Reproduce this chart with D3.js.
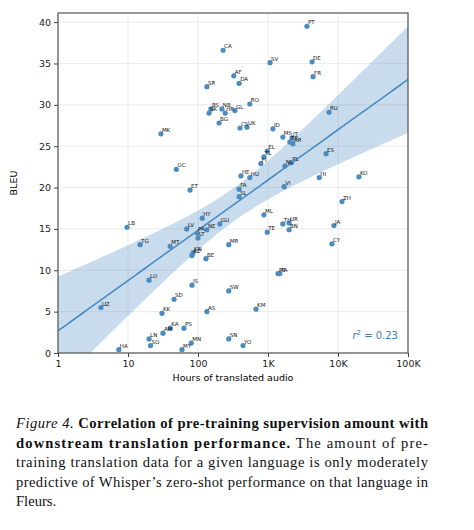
<!DOCTYPE html>
<html>
<head>
<meta charset="utf-8">
<script src="https://cdn.jsdelivr.net/npm/d3@7"></script>
<style>
  body { margin: 0; background: #fff; }
  svg { display: block; }
</style>
</head>
<body>
<svg id="chart" width="474" height="530"></svg>
<script>
// languages, training hours and BLEU
const langs = ["CA","SV","AF","DA","SR","RO","BS","NB","GL","HR","SK","BG","CS","UK","MK","ID","MS","OC","EL","TL","FI","HE","HU","ET","FA",
  "PT","DE","FR","RU","IT","TR","AR","ES","PL","NL","HI","KO","VI",
  "SL","HY","LB","LV","PA","NE","GU","TG","MT","LT","KN","AZ","BE","MR","ML","LO","IS","SW","SD","UZ","KK","AS","KM","KA","PS","AM","LN","SO","HA","MY","MN","SN","YO",
  "ZH","TH","UR","TE","BN","JA","CY","MI","TA"];
const hours = [228,1070,325,387,134,550,153,219,337,245,144,200,398,500,29.5,1175,1630,49,975,875,790,410,550,77,387,
  3600,4260,4400,7450,2200,2050,2270,6750,2140,1740,5400,19900,1700,
  387,115,9.7,69,97,134,205,14.9,40,100,85,82,130,275,875,20,82,275,45.5,4.1,30.6,134,675,40,63,31.6,20,21,7.4,59,80,275,440,
  11400,1630,2000,975,2000,8750,8200,1390,1480];
const bleu = [36.6,35.1,33.5,32.6,32.2,30.1,29.5,29.5,29.3,29.0,29.0,27.8,27.2,27.3,26.5,27.1,26.1,22.2,24.4,23.7,22.9,21.4,21.2,19.7,19.8,
  39.5,35.2,33.4,29.1,26.0,25.5,25.3,24.1,23.0,22.6,21.2,21.3,20.1,
  18.9,16.3,15.2,15.0,14.5,14.9,15.6,13.1,12.9,13.9,12.1,11.8,11.4,13.1,16.7,8.8,8.2,7.5,6.5,5.5,4.8,5.0,5.3,3.0,3.0,2.4,1.7,0.9,0.4,0.4,1.2,1.7,0.9,
  18.3,15.6,15.7,14.6,14.9,15.4,13.2,9.6,9.6];
const xTicks = [1,10,100,1000,10000,100000];
const xTickLabels = ["1","10","100","1K","10K","100K"];
const yTicks = [0,5,10,15,20,25,30,35,40];
const caption = [
  [["Figure 4. ","italic","normal"],["Correlation of pre-training supervision amount with","normal","bold"]],
  [["downstream translation performance.","normal","bold"],["  The amount of pre-","normal","normal"]],
  [["training translation data for a given language is only moderately","normal","normal"]],
  [["predictive of Whisper\u2019s zero-shot performance on that language in","normal","normal"]],
  [["Fleurs.","normal","normal"]]
];

const svg = d3.select("#chart");
const pLeft = 58, pRight = 408, pTop = 13, pBottom = 353;
const x = d3.scaleLog().domain([1,100000]).range([pLeft,pRight]);
const y = d3.scaleLinear().domain([0,41.1]).range([pBottom,pTop]);
const blue = "#4a8bc2";

// grid
svg.append("g").selectAll("line").data(xTicks).join("line")
  .attr("x1", d => x(d)).attr("x2", d => x(d)).attr("y1", pTop).attr("y2", pBottom)
  .attr("stroke", "#e6e6e6").attr("stroke-width", 0.8);
svg.append("g").selectAll("line").data(yTicks).join("line")
  .attr("x1", pLeft).attr("x2", pRight).attr("y1", d => y(d)).attr("y2", d => y(d))
  .attr("stroke", "#e6e6e6").attr("stroke-width", 0.8);

// regression on log10(hours) with 95% confidence band
const lx = hours.map(h => Math.log10(h));
const n = lx.length;
const mx = d3.mean(lx), my = d3.mean(bleu);
const sxx = d3.sum(lx, v => (v - mx) ** 2);
const sxy = d3.sum(lx, (v, i) => (v - mx) * (bleu[i] - my));
const slope = sxy / sxx, icpt = my - slope * mx;
const sse = d3.sum(lx, (v, i) => (bleu[i] - icpt - slope * v) ** 2);
const s = Math.sqrt(sse / (n - 2));
const band = d3.range(0, 5.001, 0.05).map(t => {
  const yh = icpt + slope * t;
  const se = s * Math.sqrt(1 / n + (t - mx) ** 2 / sxx);
  return { t, yh, lo: yh - 1.99 * se, hi: yh + 1.99 * se };
});

svg.append("clipPath").attr("id", "clip").append("rect")
  .attr("x", pLeft).attr("y", pTop).attr("width", pRight - pLeft).attr("height", pBottom - pTop);
const plot = svg.append("g").attr("clip-path", "url(#clip)");
plot.append("path").datum(band)
  .attr("fill", blue).attr("fill-opacity", 0.3)
  .attr("d", d3.area().x(d => x(10 ** d.t)).y0(d => y(d.lo)).y1(d => y(d.hi)));
plot.append("path").datum(band)
  .attr("fill", "none").attr("stroke", blue).attr("stroke-width", 1.6)
  .attr("d", d3.line().x(d => x(10 ** d.t)).y(d => y(d.yh)));

// points + labels
const pts = svg.append("g");
pts.selectAll("circle").data(langs).join("circle")
  .attr("cx", (d, i) => x(hours[i])).attr("cy", (d, i) => y(bleu[i]))
  .attr("r", 2.6).attr("fill", blue);
pts.selectAll("text").data(langs).join("text")
  .attr("x", (d, i) => x(hours[i]) + 1).attr("y", (d, i) => y(bleu[i]) - 2)
  .attr("font-family", "DejaVu Sans").attr("font-size", 5.5).attr("fill", "#111")
  .text(d => d);

// frame
svg.append("rect").attr("x", pLeft).attr("y", pTop).attr("width", pRight - pLeft).attr("height", pBottom - pTop)
  .attr("fill", "none").attr("stroke", "#555").attr("stroke-width", 1.2);

// axes
const xAxis = svg.append("g").attr("transform", `translate(0,${pBottom})`)
  .call(d3.axisBottom(x).tickValues(xTicks).tickFormat((d, i) => xTickLabels[i]).tickSize(4).tickSizeOuter(0));
const yAxis = svg.append("g").attr("transform", `translate(${pLeft},0)`)
  .call(d3.axisLeft(y).tickValues(yTicks).tickSize(4).tickSizeOuter(0));
[xAxis, yAxis].forEach(a => {
  a.select(".domain").remove();
  a.selectAll("text").attr("font-family", "DejaVu Sans").attr("font-size", 9.5).attr("fill", "#222");
  a.selectAll("line").attr("stroke", "#444");
});
svg.append("text").attr("x", (pLeft + pRight) / 2).attr("y", 381).attr("text-anchor", "middle")
  .attr("font-family", "DejaVu Sans").attr("font-size", 9.5).text("Hours of translated audio");
svg.append("text").attr("transform", `translate(17,${(pTop + pBottom) / 2}) rotate(-90)`).attr("text-anchor", "middle")
  .attr("font-family", "DejaVu Sans").attr("font-size", 9.5).text("BLEU");

const r2 = (sxy * sxy) / (sxx * d3.sum(bleu, v => (v - my) ** 2));
const r2t = svg.append("text").attr("x", 398).attr("y", 339).attr("text-anchor", "end")
  .attr("font-family", "DejaVu Sans").attr("font-size", 10).attr("fill", "#3a7ab0");
r2t.append("tspan").attr("font-style", "italic").text("r");
r2t.append("tspan").attr("dy", -4).attr("font-size", 7).text("2");
r2t.append("tspan").attr("dy", 4).text(" = " + r2.toFixed(2));

// caption, justified lines
caption.forEach((line, i) => {
  const t = svg.append("text").attr("x", 16).attr("y", 428 + i * 19.6)
    .attr("font-family", "Liberation Serif").attr("font-size", 14.6).attr("fill", "#111");
  if (i < 4) t.attr("textLength", 412).attr("lengthAdjust", "spacing");
  line.forEach(([str, fs, fw]) => t.append("tspan").attr("font-style", fs).attr("font-weight", fw).text(str));
});
</script>
</body>
</html>
